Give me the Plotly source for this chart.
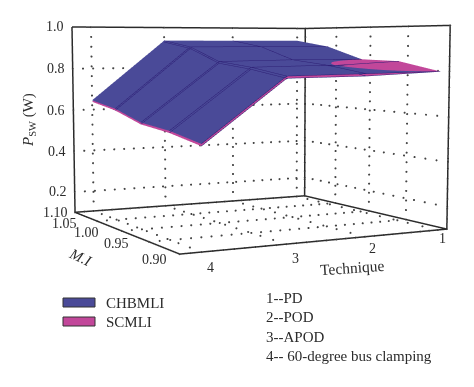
import numpy as np
import plotly.graph_objects as go

W, H = 474, 387
technique = [4, 3, 2, 1]
mod_index = [0.90, 0.95, 1.00, 1.05, 1.10]
chb = [
    [0.530, 0.560, 0.575, 0.620, 0.645],
    [0.790, 0.820, 0.840, 0.905, 0.935],
    [0.795, 0.825, 0.845, 0.905, 0.935],
    [0.800, 0.815, 0.845, 0.905, 0.935],
]
scm = [
    [0.521, 0.551, 0.567, 0.612, 0.638],
    [0.781, 0.811, 0.832, 0.897, 0.928],
    [0.785, 0.822, 0.837, 0.897, 0.928],
    [0.800, 0.840, 0.845, 0.897, 0.928],
]
z_ticks = [0.2, 0.4, 0.6, 0.8, 1.0]
t_box = [4.25, 0.87]
m_box = [0.90, 1.10]
z_box = [0.10, 1.00]
t_labels = ["4", "3", "2", "1"]
m_labels = ["0.90", "0.95", "1.00", "1.05", "1.10"]
z_labels = ["0.2", "0.4", "0.6", "0.8", "1.0"]
tech_names = ["1--PD", "2--POD", "3--APOD", "4-- 60-degree bus clamping"]
FONT = "Liberation Serif"
INK = "#2b2b2b"

fig = go.Figure()
def surf(z, color, name):
    fig.add_trace(go.Surface(
        x=technique, y=mod_index, z=[list(c) for c in zip(*z)], name=name,
        colorscale=[[0, color], [1, color]], showscale=False,
        lighting=dict(ambient=1, diffuse=0, specular=0, fresnel=0),
        contours=dict(
            x=dict(show=True, start=1, end=4, size=1, color="#2d1f75", width=1),
            y=dict(show=True, start=0.9, end=1.1, size=0.05, color="#2d1f75", width=1),
        ), hoverinfo="skip"))
surf(scm, "#c2479a", "SCMLI")
surf(chb, "#4a4a98", "CHBMLI")

def line3(xs, ys, zs, width=3, color=INK):
    fig.add_trace(go.Scatter3d(x=xs, y=ys, z=zs, mode="lines", showlegend=False, hoverinfo="skip",
                               line=dict(color=color, width=width)))
def dots(a, b, n):
    p = np.linspace(a, b, n)
    fig.add_trace(go.Scatter3d(x=p[:, 0], y=p[:, 1], z=p[:, 2], mode="markers", showlegend=False, hoverinfo="skip",
                               marker=dict(size=1.2, color="#444", line=dict(width=0))))
t0, t1 = t_box; m0, m1 = m_box; z0, z1 = z_box
for t in technique:
    dots((t, m1, z0), (t, m1, z1), 20)
    dots((t, m0, z0), (t, m1, z0), 12)
for m in mod_index:
    dots((t1, m, z0), (t1, m, z1), 21)
    dots((t0, m, z0), (t1, m, z0), 28)
for z in z_ticks[:-1]:
    dots((t0, m1, z), (t1, m1, z), 26)
    dots((t1, m0, z), (t1, m1, z), 16)
line3([t0, t0, t1, t1, t0], [m1, m0, m0, m1, m1], [z0] * 5)
line3([t0, t1, t1], [m1, m1, m0], [z1] * 3)
line3([t0, t0], [m1, m1], [z0, z1])
line3([t1, t1], [m1, m1], [z0, z1])
line3([t1, t1], [m0, m0], [z0, z1])

def px_x(x): return x / W
def px_y(y): return 1 - y / H
def note(x, y, text, size=13, angle=0, anchor="left"):
    fig.add_annotation(x=px_x(x), y=px_y(y), xref="paper", yref="paper", text=text, showarrow=False,
                       textangle=angle, xanchor=anchor, yanchor="middle",
                       font=dict(family=FONT, size=size, color=INK))
note(29, 120, "<i>P</i><sub>SW</sub> (W)", 15, -90, "center")
note(80, 257, "<i>M.I</i>", 15, 25, "center")
note(352, 267, "Technique", 15.5, -4, "center")
note(104, 303, "CHBMLI", 15)
note(104, 322, "SCMLI", 15)
for y, s in zip([298, 317, 337, 356], tech_names):
    note(264, y, s, 15)
for y0, c in [(298, "#4a4a98"), (317, "#c2479a")]:
    fig.add_shape(type="rect", xref="paper", yref="paper", x0=px_x(63), x1=px_x(95), y0=px_y(y0), y1=px_y(y0 + 9),
                  fillcolor=c, line=dict(color="#333", width=1))

def lab3(x, y, z, text, dx, dy):
    return dict(x=x, y=y, z=z, text=text, showarrow=False, xshift=dx, yshift=dy, xanchor="center", yanchor="middle",
                font=dict(family=FONT, size=14, color=INK))
annos = []
for t, s, (dx, dy) in zip(technique, t_labels, [(9, -15), (9, -14), (8, -12), (5, -9)]):
    annos.append(lab3(t, m0, z0, s, dx, dy))
for m, s, (dx, dy) in zip(mod_index, m_labels, [(-25, -5), (-32, -2), (-35, -2), (-33, -2), (-20, 0)]):
    annos.append(lab3(t0, m, z0, s, dx, dy))
for z, s in zip(z_ticks, z_labels):
    annos.append(lab3(t0, m1, z, s, -17, 0))

PAD = 1.01
def padded(b):
    mid, half = (b[0] + b[1]) / 2, (b[1] - b[0]) / 2
    return [mid - half * PAD, mid + half * PAD]

ax = dict(showbackground=False, showgrid=False, zeroline=False, showspikes=False, showline=False,
          title=dict(text=""), showticklabels=False, ticks="")
fig.update_layout(
    width=W, height=H, margin=dict(l=0, r=0, t=0, b=0), paper_bgcolor="white", showlegend=False,
    scene=dict(
        domain=dict(x=[46 / W, 1], y=[1 - 316 / H, 1]),
        xaxis=dict(ax, range=padded(t_box)),
        yaxis=dict(ax, range=padded(m_box)),
        zaxis=dict(ax, range=padded(z_box)),
        aspectmode="manual", aspectratio=dict(x=0.857 * PAD, y=0.833 * PAD, z=0.595 * PAD),
        camera=dict(eye=dict(x=-1.616, y=-3.107, z=0.248), center=dict(x=0.085, y=0.109, z=-0.118),
                    up=dict(x=0, y=0, z=1)),
        annotations=annos,
    ))
post = """document.body.style.margin='0';document.documentElement.style.overflow='hidden';
(function(){var gd=document.getElementById('{plot_id}');
function f(){var s=gd._fullLayout&&gd._fullLayout.scene&&gd._fullLayout.scene._scene;
if(s&&s.glplot){s.glplot.fovy=0.2738;s.glplot.redraw();return}setTimeout(f,20)}f()})();"""
fig.write_html("out.html", post_script=post, config=dict(displayModeBar=False))
